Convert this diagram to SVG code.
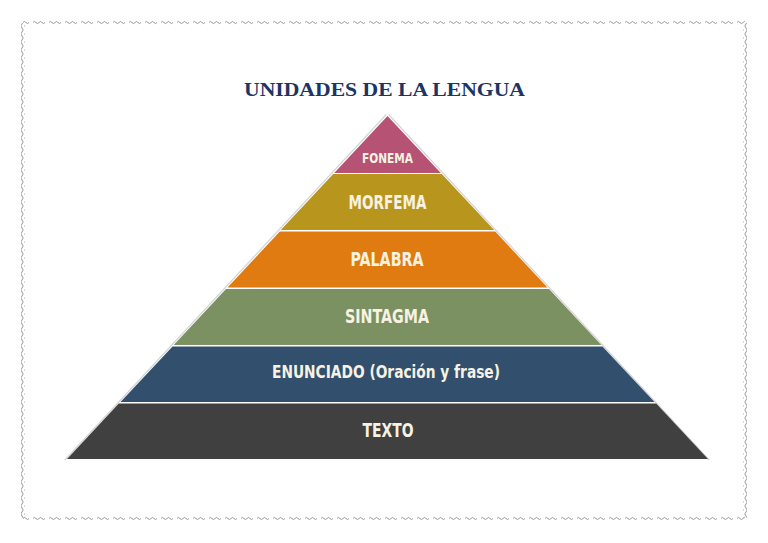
<svg xmlns="http://www.w3.org/2000/svg" width="768" height="543" viewBox="0 0 768 543">
<defs>
<pattern id="wh" width="16" height="4" patternUnits="userSpaceOnUse">
<path d="M1,2.5 Q2.5,0.3 4,2.5 T7,2.5 T10,2.5 T13,2.5" fill="none" stroke="#7a7a7a" stroke-width="0.75"/>
</pattern>
<pattern id="wv" width="4" height="8" patternUnits="userSpaceOnUse">
<path d="M2,0 L0.8,2 L2,4 L3.2,6 L2,8" fill="none" stroke="#7a7a7a" stroke-width="0.75"/>
</pattern>
<style>
.lbl{font-family:"DejaVu Sans Condensed","DejaVu Sans",sans-serif;font-weight:bold;fill:#f7f2e2;text-anchor:middle}
.title{font-family:"Liberation Serif","Times New Roman",serif;font-weight:bold;fill:#1b3564;font-size:19.5px}
.edge{fill:none;stroke:#d4d4d4;stroke-width:1.2}
</style>
</defs>
<rect width="768" height="543" fill="#ffffff"/>
<g id="border">
<rect x="23" y="21" width="722" height="4" fill="url(#wh)"/>
<rect x="23" y="516" width="722" height="4" fill="url(#wh)"/>
<rect x="21" y="23" width="4" height="495" fill="url(#wv)"/>
<rect x="743" y="23" width="4" height="495" fill="url(#wv)"/>
</g>
<text class="title" x="244" y="96" textLength="281" lengthAdjust="spacingAndGlyphs">UNIDADES DE LA LENGUA</text>
<path class="edge" d="M386.3,114.5 L64.8,460 M388.7,114.5 L709.2,460"/>
<g id="fonema">
<polygon points="387.5,116 334.2,173 440.8,173" fill="#b65274"/>
<text class="lbl" x="387.5" y="162.5" font-size="13.5" textLength="51" lengthAdjust="spacingAndGlyphs">FONEMA</text>
</g>
<g id="morfema">
<polygon points="333.2,174 441.8,174 494.2,230 280.8,230" fill="#b8961e"/>
<text class="lbl" x="387.5" y="209" font-size="19" textLength="78" lengthAdjust="spacingAndGlyphs">MORFEMA</text>
</g>
<g id="palabra">
<polygon points="279.8,231.5 495.2,231.5 547.5,287.5 227.5,287.5" fill="#df7b10"/>
<text class="lbl" x="387" y="266" font-size="19" textLength="73" lengthAdjust="spacingAndGlyphs">PALABRA</text>
</g>
<g id="sintagma">
<polygon points="226,289 549,289 601.3,345 173.7,345" fill="#7b9162"/>
<text class="lbl" x="387" y="323" font-size="19" textLength="84" lengthAdjust="spacingAndGlyphs">SINTAGMA</text>
</g>
<g id="enunciado">
<polygon points="172.5,346.5 602.5,346.5 654.5,402 120.5,402" fill="#324f6e"/>
<text class="lbl" x="386" y="378" font-size="18" textLength="228" lengthAdjust="spacingAndGlyphs">ENUNCIADO (Oración y frase)</text>
</g>
<g id="texto">
<polygon points="118.8,403.5 656.2,403.5 708,459 67,459" fill="#404040"/>
<text class="lbl" x="388" y="437" font-size="19" textLength="51" lengthAdjust="spacingAndGlyphs">TEXTO</text>
</g>
</svg>
